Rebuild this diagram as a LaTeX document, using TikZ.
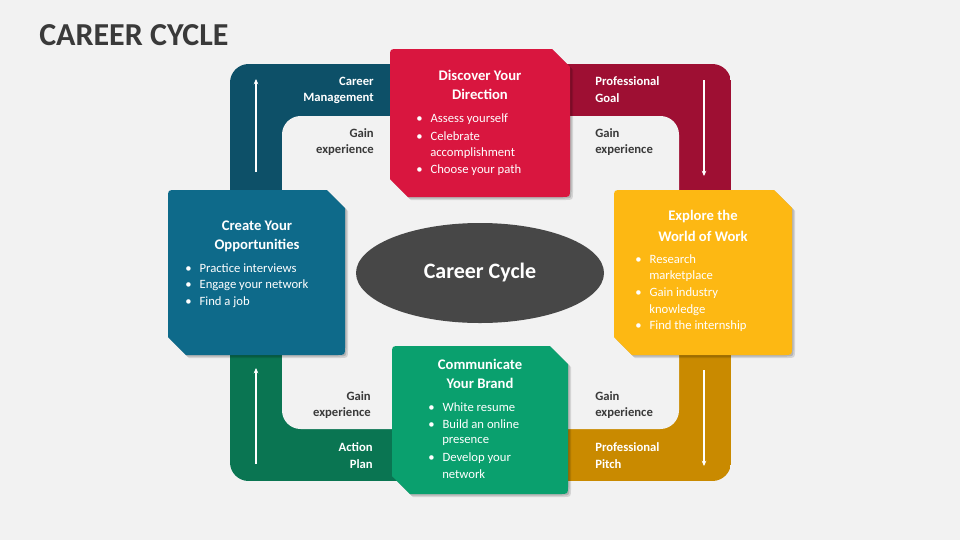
\documentclass[tikz,border=0pt]{standalone}
\usepackage{fontspec}
\setmainfont{Carlito}
\usetikzlibrary{arrows.meta,shapes.geometric}
\definecolor{bg}{HTML}{F2F2F2}
\definecolor{fteal}{HTML}{0D5068}
\definecolor{fred}{HTML}{9E0F33}
\definecolor{fgold}{HTML}{C98A00}
\definecolor{fgreen}{HTML}{0A7552}
\definecolor{bred}{HTML}{D9163F}
\definecolor{byel}{HTML}{FDB813}
\definecolor{bgreen}{HTML}{0AA06E}
\definecolor{bteal}{HTML}{0E6A8A}
\definecolor{ink}{HTML}{3A3A3A}
\definecolor{ell}{HTML}{474747}
\tikzset{
  flab/.style={text=white,font=\bfseries\fontsize{9.5}{11}\selectfont,inner sep=0pt},
  glab/.style={text=ink,font=\bfseries\fontsize{9.5}{11}\selectfont,inner sep=0pt},
  btitle/.style={text=white,font=\bfseries\fontsize{11}{13}\selectfont,inner sep=0pt},
  bitem/.style={text=white,font=\fontsize{9.5}{11}\selectfont,inner sep=0pt,anchor=west},
  farrow/.style={white,line width=0.8pt,-{Stealth[length=4pt,width=3.5pt]}}
}
\newcommand{\cbox}[5]{% x1 y1 x2 y2 colour
  \foreach \dx/\op in {3/0.12,1.5/0.15}{
  \fill[black,opacity=\op] (#1+\dx,#4-18+\dx) -- (#1+\dx,#2+8+\dx) .. controls (#1+\dx,#2+\dx) .. (#1+8+\dx,#2+\dx) -- (#3-18+\dx,#2+\dx) -- (#3+\dx,#2+18+\dx) -- (#3+\dx,#4-8+\dx) .. controls (#3+\dx,#4+\dx) .. (#3-8+\dx,#4+\dx) -- (#1+18+\dx,#4+\dx) -- cycle;}
  \fill[#5] (#1,#4-18) -- (#1,#2+8) .. controls (#1,#2) .. (#1+8,#2) -- (#3-18,#2) -- (#3,#2+18) -- (#3,#4-8) .. controls (#3,#4) .. (#3-8,#4) -- (#1+18,#4) -- cycle;}
\begin{document}
\begin{tikzpicture}[x=0.75pt,y=-0.75pt]
\fill[bg] (0,0) rectangle (960,540);
\useasboundingbox (0,0) rectangle (960,540);
\node[anchor=west,text=ink,font=\bfseries\fontsize{24}{28}\selectfont,inner sep=0pt] (title) at (39,35) {CAREER CYCLE};
% frame
\begin{scope}
\clip[rounded corners=14pt] (230,64) rectangle (731,481);
\fill[fteal] (230,64) rectangle (480.5,272.5);
\fill[fred] (480.5,64) rectangle (731,272.5);
\fill[fgold] (480.5,272.5) rectangle (731,481);
\fill[fgreen] (230,272.5) rectangle (480.5,481);
\end{scope}
\fill[bg,rounded corners=14pt] (282,116) rectangle (679,429);
% arrows
\coordinate (a1s) at (256,172); \coordinate (a1e) at (256,79);
\coordinate (a2s) at (704,80); \coordinate (a2e) at (704,176);
\coordinate (a3s) at (704,370); \coordinate (a3e) at (704,466);
\coordinate (a4s) at (256,464); \coordinate (a4e) at (256,368);
\draw[farrow] (a1s) -- (a1e);
\draw[farrow] (a2s) -- (a2e);
\draw[farrow] (a3s) -- (a3e);
\draw[farrow] (a4s) -- (a4e);
% frame labels
\node[flab,anchor=east] (l1) at (374,81) {Career};
\node[flab,anchor=east] (l2) at (374,98) {Management};
\node[glab,anchor=east] (g1) at (374,133) {Gain};
\node[glab,anchor=east] (g2) at (374,150) {experience};
\node[flab,anchor=west] (l3) at (595,81) {Professional};
\node[flab,anchor=west] (l4) at (595,98) {Goal};
\node[glab,anchor=west] (g3) at (595,133) {Gain};
\node[glab,anchor=west] (g4) at (595,150) {experience};
\node[glab,anchor=east] (g5) at (371,396) {Gain};
\node[glab,anchor=east] (g6) at (371,413) {experience};
\node[flab,anchor=east] (l5) at (373,447) {Action};
\node[flab,anchor=east] (l6) at (373,464) {Plan};
\node[glab,anchor=west] (g7) at (595,396) {Gain};
\node[glab,anchor=west] (g8) at (595,413) {experience};
\node[flab,anchor=west] (l7) at (595,447) {Professional};
\node[flab,anchor=west] (l8) at (595,464) {Pitch};
% ellipse
\node[ellipse,fill=ell,inner sep=0pt,minimum width=186pt,minimum height=75pt,text=white,font=\bfseries\fontsize{16.5}{19}\selectfont] (cc) at (480,273) {Career Cycle};
% boxes
\cbox{390}{49}{570}{197}{bred}
\cbox{614}{190}{792}{355}{byel}
\cbox{392}{346}{568}{494}{bgreen}
\cbox{168}{190}{345}{355}{bteal}
% Discover
\node[btitle] (d1) at (480,75) {Discover Your};
\node[btitle] (d2) at (480,94) {Direction};
\node[bitem] (d3) at (416,119) {•\hspace{6pt}Assess yourself};
\node[bitem] (d4) at (416,136) {•\hspace{6pt}Celebrate};
\node[bitem] (d5) at (430,153) {accomplishment};
\node[bitem] (d6) at (416,170) {•\hspace{6pt}Choose your path};
% Explore
\node[btitle] (e1) at (703,217) {Explore the};
\node[btitle] (e2) at (703,236) {World of Work};
\node[bitem] (e3) at (635,259) {•\hspace{6pt}Research};
\node[bitem] (e4) at (649,276) {marketplace};
\node[bitem] (e5) at (635,293) {•\hspace{6pt}Gain industry};
\node[bitem] (e6) at (649,310) {knowledge};
\node[bitem] (e7) at (635,326) {•\hspace{6pt}Find the internship};
% Communicate
\node[btitle] (c1) at (480,364) {Communicate};
\node[btitle] (c2) at (480,383) {Your Brand};
\node[bitem] (c3) at (428,407) {•\hspace{6pt}White resume};
\node[bitem] (c4) at (428,424) {•\hspace{6pt}Build an online};
\node[bitem] (c5) at (442,441) {presence};
\node[bitem] (c6) at (428,458) {•\hspace{6pt}Develop your};
\node[bitem] (c7) at (442,474) {network};
% Create
\node[btitle] (r1) at (257,226) {Create Your};
\node[btitle] (r2) at (257,245) {Opportunities};
\node[bitem] (r3) at (185,268) {•\hspace{6pt}Practice interviews};
\node[bitem] (r4) at (185,285) {•\hspace{6pt}Engage your network};
\node[bitem] (r5) at (185,302) {•\hspace{6pt}Find a job};
\end{tikzpicture}
\end{document}
